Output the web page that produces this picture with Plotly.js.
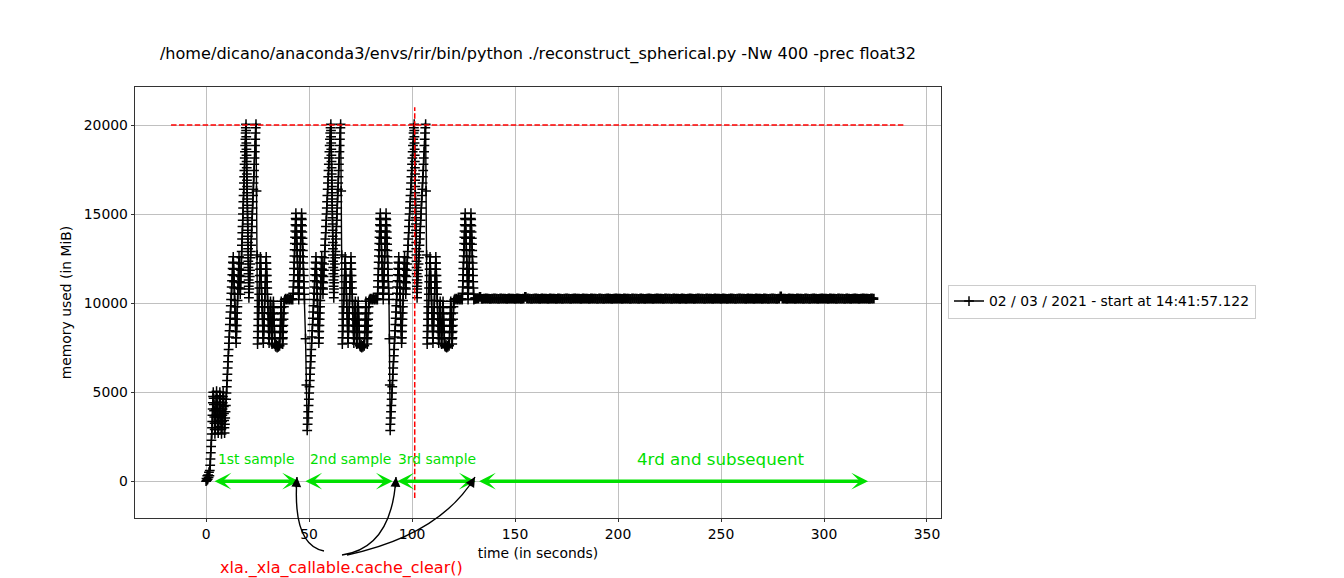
<!DOCTYPE html>
<html>
<head>
<meta charset="utf-8">
<script src="https://cdn.plot.ly/plotly-3.0.1.min.js"></script>
<style>html,body{margin:0;padding:0;background:#fff;}#chart{width:1344px;height:578px;}</style>
</head>
<body>
<div id="chart"></div>
<script>
// ================= DATA (memory used, MiB) =================
// recurring stroke shapes of the memory trace
const C1_START = [0,150,50,300,100,350,200,500,300,600,900,1250,1600,1950,2300,2650];
const C1_LOW = [3000,3350,3700,4050,4400,4750,5000, 4650,4300,3950,3600,3250,2900,2650,
  3000,3350,3700,4050,4400,4750,5050, 4650,4300,3950,3600,3250,2900,2700,
  3050,3400,3750,4100,4450,4800,5000, 4650,4300,3950,3600,3250,2900,2650,
  3000,3350,3700,4050,4400,4750,5000, 4600,4200,3800,3400,3000,2700];
const RAMP = [3200,3550,3900,4250,4600,4950,5300,5650,6000,6350,6700,7050,7400,7750,8100,8450,8800,9150,9500,9850,10200,10550,10900,11250,11600,11950,12300,12600];
const DN_A = [12250,11900,11550,11200,10850,10500,10150,9800,9450,9100,8750,8400,8050,7750];
const UP_A = [8050,8400,8750,9100,9450,9800,10150,10500,10850,11200,11550,11900,12250,12600];
const DN6 = [12250,11900,11550,11200,10850,10500];
const CLIMB = [10800,11150,11500,11850,12200,12550,12900,13250,13600,13950,14300,14650,15000,15350,15700,16050,16400,16750,17100,17450,17800,18150,18500,18850,19200,19550,19850,20050];
const FALL = [19700,19350,19000,18650,18300,17950,17600,17250,16900,16550,16200,15850,15500,15150,14800,14450,14100,13750,13400,13050,12700,12350,12000,11650,11300,10950,10600,10300];
const DROP_A = [16300,12700,7700];
const UP_S = [8050,8400,8750,9100,9450,9800,10100];
const DN_S = [9750,9400,9050,8700,8350,8000,7700];
const BLOB = [7600,7550,7650,7500,7600,7550,7650,7600];
const STEP = [10200,10250,10200,10250,10200,10250,10200,10250,10200,10250,10200];
const UP_C = [10550,10900,11250,11600,11950,12300,12650,13000,13350,13700,14050,14400,14750,15050];
const DN_C = [14700,14350,14000,13650,13300,12950,12600,12250,11900,11550,11200,10850,10500,10200];
const DROP_B = [8000,5400,2850];
const TAIL = [10250,10250];

// time stamps (s) of sample 1
const t1 = [
 0,0.2,0.4,0.6,0.8,1.0,1.2,1.4,1.6,1.8,2.0,2.15,2.3,2.45,2.6,2.75,
 2.9,3.0,3.1,3.2,3.3,3.4,3.5, 3.7,3.8,3.9,4.0,4.1,4.2,4.3, 4.5,4.6,4.7,4.8,4.9,5.0,5.1, 5.3,5.4,5.5,5.6,5.7,5.8,5.9,
 6.1,6.2,6.3,6.4,6.5,6.6,6.7, 6.9,7.0,7.1,7.2,7.3,7.4,7.5, 7.7,7.8,7.9,8.0,8.1,8.2,8.3, 8.5,8.6,8.7,8.8,8.9,9.0,
 9.15,9.3,9.45,9.6,9.75,9.9,10.05,10.2,10.35,10.5,10.65,10.8,10.95,11.1,11.25,11.4,11.55,11.7,11.85,12.0,12.15,12.3,12.45,12.6,12.75,12.9,13.05,13.2,
 13.3,13.4,13.5,13.6,13.7,13.8,13.9,14.0,14.1,14.2,14.3,14.4,14.5,14.6,
 14.7,14.8,14.9,15.0,15.1,15.2,15.3,15.4,15.5,15.6,15.7,15.8,15.9,16.0,
 16.1,16.2,16.3,16.4,16.5,16.6,
 16.7,16.8,16.9,17.0,17.1,17.2,17.3,17.4,17.5,17.6,17.7,17.8,17.9,18.0,18.1,18.2,18.3,18.4,18.5,18.6,18.7,18.8,18.9,19.0,19.1,19.2,19.3,19.4,
 19.45,19.5,19.55,19.6,19.65,19.7,19.75,19.8,19.85,19.9,19.95,20.0,20.05,20.1,20.15,20.2,20.25,20.3,20.35,20.4,20.45,20.5,20.55,20.6,20.65,20.7,20.75,20.8,
 21.0,21.12,21.24,21.36,21.48,21.6,21.72,21.84,21.96,22.08,22.2,22.32,22.44,22.56,22.68,22.8,22.92,23.04,23.16,23.28,23.4,23.52,23.64,23.76,23.88,24.0,24.12,24.24,
 24.5,24.8,25.0,
 25.1,25.2,25.3,25.4,25.5,25.6,25.7,25.8,25.9,26.0,26.1,26.2,26.3,26.4,
 26.5,26.6,26.7,26.8,26.9,27.0,27.1,27.2,27.3,27.4,27.5,27.6,27.7,27.8,
 27.9,28.0,28.1,28.2,28.3,28.4,28.5,28.6,28.7,28.8,28.9,29.0,29.1,29.2,
 29.3,29.4,29.5,29.6,29.7,29.8,29.9,30.0,30.1,30.2,30.3,30.4,30.5,30.6,
 30.7,30.8,30.9,31.0,31.1,31.2,31.3, 31.4,31.5,31.6,31.7,31.8,31.9,32.0, 32.1,32.2,32.3,32.4,32.5,32.6,32.7, 32.8,32.9,33.0,33.1,33.2,33.3,33.4,
 33.6,33.9,34.2,34.5,34.8,35.1,35.4,35.7,
 35.9,36.0,36.1,36.2,36.3,36.4,36.5, 36.6,36.7,36.8,36.9,37.0,37.1,37.2, 37.3,37.4,37.5,37.6,37.7,37.8,37.9,
 38.2,38.6,39.0,39.4,39.8,40.2,40.6,41.0,41.4,41.8,42.1,
 42.3,42.4,42.5,42.6,42.7,42.8,42.9,43.0,43.1,43.2,43.3,43.4,43.5,43.6,
 43.7,43.8,43.9,44.0,44.1,44.2,44.3,44.4,44.5,44.6,44.7,44.8,44.9,45.0,
 45.1,45.2,45.3,45.4,45.5,45.6,45.7,45.8,45.9,46.0,46.1,46.2,46.3,46.4,
 46.5,46.6,46.7,46.8,46.9,47.0,47.1,47.2,47.3,47.4,47.5,47.6,47.7,47.8,
 48.3,48.7,49.1
];
const m1 = [].concat(C1_START, C1_LOW, RAMP, DN_A, UP_A, DN6, CLIMB, FALL, CLIMB, DROP_A,
  UP_A, DN_A, UP_A, DN_A, UP_S, DN_S, UP_S, DN_S, BLOB, UP_S, DN_S, UP_S, STEP,
  UP_C, DN_C, UP_C, DN_C, DROP_B);

// time stamps (s) of sample 2
const t2 = [
 49.3,49.45,49.6,49.75,49.9,50.05,50.2,50.35,50.5,50.65,50.8,50.95,51.1,51.25,51.4,51.55,51.7,51.85,52.0,52.15,52.3,52.45,52.6,52.75,52.9,53.05,53.2,53.35,
 53.45,53.55,53.65,53.75,53.85,53.95,54.05,54.15,54.25,54.35,54.45,54.55,54.65,54.75,
 54.85,54.95,55.05,55.15,55.25,55.35,55.45,55.55,55.65,55.75,55.85,55.95,56.05,56.15,
 56.25,56.35,56.45,56.55,56.65,56.75,
 56.8,56.94,57.08,57.22,57.36,57.5,57.64,57.78,57.92,58.06,58.2,58.34,58.48,58.62,58.76,58.9,59.04,59.18,59.32,59.46,59.6,59.74,59.88,60.02,60.16,60.3,60.44,60.58,
 60.65,60.7,60.75,60.8,60.85,60.9,60.95,61.0,61.05,61.1,61.15,61.2,61.25,61.3,61.35,61.4,61.45,61.5,61.55,61.6,61.65,61.7,61.75,61.8,61.85,61.9,61.95,62.0,
 62.1,62.22,62.34,62.46,62.58,62.7,62.82,62.94,63.06,63.18,63.3,63.42,63.54,63.66,63.78,63.9,64.02,64.14,64.26,64.38,64.5,64.62,64.74,64.86,64.98,65.1,65.22,65.34,
 65.6,65.9,66.15,
 66.25,66.35,66.45,66.55,66.65,66.75,66.85,66.95,67.05,67.15,67.25,67.35,67.45,67.55,
 67.65,67.75,67.85,67.95,68.05,68.15,68.25,68.35,68.45,68.55,68.65,68.75,68.85,68.95,
 69.05,69.15,69.25,69.35,69.45,69.55,69.65,69.75,69.85,69.95,70.05,70.15,70.25,70.35,
 70.45,70.55,70.65,70.75,70.85,70.95,71.05,71.15,71.25,71.35,71.45,71.55,71.65,71.75,
 71.85,71.95,72.05,72.15,72.25,72.35,72.45, 72.55,72.65,72.75,72.85,72.95,73.05,73.15, 73.25,73.35,73.45,73.55,73.65,73.75,73.85, 73.95,74.05,74.15,74.25,74.35,74.45,74.55,
 74.7,75.0,75.3,75.6,75.9,76.2,76.5,76.8,
 77.0,77.1,77.2,77.3,77.4,77.5,77.6, 77.7,77.8,77.9,78.0,78.1,78.2,78.3, 78.4,78.5,78.6,78.7,78.8,78.9,79.0,
 79.3,79.7,80.1,80.5,80.9,81.3,81.7,82.1,82.5,82.9,83.2,
 83.3,83.4,83.5,83.6,83.7,83.8,83.9,84.0,84.1,84.2,84.3,84.4,84.5,84.6,
 84.7,84.8,84.9,85.0,85.1,85.2,85.3,85.4,85.5,85.6,85.7,85.8,85.9,86.0,
 86.1,86.2,86.3,86.4,86.5,86.6,86.7,86.8,86.9,87.0,87.1,87.2,87.3,87.4,
 87.5,87.6,87.7,87.8,87.9,88.0,88.1,88.2,88.3,88.4,88.5,88.6,88.7,88.8,
 89.0,89.2,89.4
];
const m2 = [].concat(RAMP, DN_A, UP_A, DN6, CLIMB, FALL, CLIMB, DROP_A,
  UP_A, DN_A, UP_A, DN_A, UP_S, DN_S, UP_S, DN_S, BLOB, UP_S, DN_S, UP_S, STEP,
  UP_C, DN_C, UP_C, DN_C, DROP_B);

// time stamps (s) of sample 3
const t3 = [
 89.5,89.65,89.8,89.95,90.1,90.25,90.4,90.55,90.7,90.85,91.0,91.15,91.3,91.45,91.6,91.75,91.9,92.05,92.2,92.35,92.5,92.65,92.8,92.95,93.1,93.25,93.4,93.55,
 93.65,93.75,93.85,93.95,94.05,94.15,94.25,94.35,94.45,94.55,94.65,94.75,94.85,94.95,
 95.05,95.15,95.25,95.35,95.45,95.55,95.65,95.75,95.85,95.95,96.05,96.15,96.25,96.35,
 96.45,96.55,96.65,96.75,96.85,96.95,
 97.0,97.15,97.3,97.45,97.6,97.75,97.9,98.05,98.2,98.35,98.5,98.65,98.8,98.95,99.1,99.25,99.4,99.55,99.7,99.85,100.0,100.15,100.3,100.45,100.6,100.75,100.9,101.05,
 101.1,101.15,101.2,101.25,101.3,101.35,101.4,101.45,101.5,101.55,101.6,101.65,101.7,101.75,101.8,101.85,101.9,101.95,102.0,102.05,102.1,102.15,102.2,102.25,102.3,102.35,102.4,102.45,
 102.55,102.7,102.85,103.0,103.15,103.3,103.45,103.6,103.75,103.9,104.05,104.2,104.35,104.5,104.65,104.8,104.95,105.1,105.25,105.4,105.55,105.7,105.85,106.0,106.15,106.3,106.45,106.6,
 106.8,107.1,107.35,
 107.45,107.55,107.65,107.75,107.85,107.95,108.05,108.15,108.25,108.35,108.45,108.55,108.65,108.75,
 108.85,108.95,109.05,109.15,109.25,109.35,109.45,109.55,109.65,109.75,109.85,109.95,110.05,110.15,
 110.25,110.35,110.45,110.55,110.65,110.75,110.85,110.95,111.05,111.15,111.25,111.35,111.45,111.55,
 111.65,111.75,111.85,111.95,112.05,112.15,112.25,112.35,112.45,112.55,112.65,112.75,112.85,112.95,
 113.05,113.15,113.25,113.35,113.45,113.55,113.65, 113.75,113.85,113.95,114.05,114.15,114.25,114.35, 114.45,114.55,114.65,114.75,114.85,114.95,115.05, 115.15,115.25,115.35,115.45,115.55,115.65,115.75,
 115.9,116.2,116.5,116.8,117.1,117.4,117.7,118.0,
 118.2,118.3,118.4,118.5,118.6,118.7,118.8, 118.9,119.0,119.1,119.2,119.3,119.4,119.5, 119.6,119.7,119.8,119.9,120.0,120.1,120.2,
 120.5,120.9,121.3,121.7,122.1,122.5,122.9,123.3,123.7,124.1,124.4,
 124.5,124.6,124.7,124.8,124.9,125.0,125.1,125.2,125.3,125.4,125.5,125.6,125.7,125.8,
 125.9,126.0,126.1,126.2,126.3,126.4,126.5,126.6,126.7,126.8,126.9,127.0,127.1,127.2,
 127.3,127.4,127.5,127.6,127.7,127.8,127.9,128.0,128.1,128.2,128.3,128.4,128.5,128.6,
 128.7,128.8,128.9,129.0,129.1,129.2,129.3,129.4,129.5,129.6,129.7,129.8,129.9,130.0,
 130.3,130.6
];
const m3 = [].concat(RAMP, DN_A, UP_A, DN6, CLIMB, FALL, CLIMB, DROP_A,
  UP_A, DN_A, UP_A, DN_A, UP_S, DN_S, UP_S, DN_S, BLOB, UP_S, DN_S, UP_S, STEP,
  UP_C, DN_C, UP_C, DN_C, TAIL);

// 4th and subsequent samples (steady state)
const tF = [
 131,132,133,134,135,136,137,138,139,140,141,142,143,144,145,146,147,148,149,150,
 151,152,153,154,155,156,157,158,159,160,161,162,163,164,165,166,167,168,169,170,
 171,172,173,174,175,176,177,178,179,180,181,182,183,184,185,186,187,188,189,190,
 191,192,193,194,195,196,197,198,199,200,201,202,203,204,205,206,207,208,209,210,
 211,212,213,214,215,216,217,218,219,220,221,222,223,224,225,226,227,228,229,230,
 231,232,233,234,235,236,237,238,239,240,241,242,243,244,245,246,247,248,249,250,
 251,252,253,254,255,256,257,258,259,260,261,262,263,264,265,266,267,268,269,270,
 271,272,273,274,275,276,277,278,279,280,281,282,283,284,285,286,287,288,289,290,
 291,292,293,294,295,296,297,298,299,300,301,302,303,304,305,306,307,308,309,310,
 311,312,313,314,315,316,317,318,319,320,321,322,323,324
];
const mF = [
 10250,10260,10350,10240,10250,10260,10250,10240,10250,10260,10250,10240,10260,10250,10250,10240,10260,10250,10250,10240,
 10260,10250,10240,10250,10350,10260,10250,10240,10250,10260,10250,10240,10260,10250,10250,10240,10260,10250,10250,10240,
 10260,10250,10240,10250,10260,10250,10240,10250,10260,10250,10250,10240,10260,10250,10250,10240,10260,10250,10250,10240,
 10260,10250,10240,10250,10260,10250,10240,10250,10260,10250,10250,10240,10260,10250,10250,10240,10260,10250,10250,10240,
 10260,10250,10240,10250,10260,10250,10240,10250,10260,10250,10250,10240,10260,10250,10250,10240,10260,10250,10250,10240,
 10260,10250,10240,10250,10260,10250,10240,10250,10260,10250,10250,10240,10260,10250,10250,10240,10260,10250,10250,10240,
 10260,10250,10240,10250,10260,10250,10240,10250,10260,10250,10250,10240,10260,10250,10250,10240,10260,10250,10250,10240,
 10260,10250,10240,10250,10260,10250,10240,10250,10380,10250,10250,10240,10260,10250,10250,10240,10260,10250,10250,10240,
 10260,10250,10240,10250,10260,10250,10240,10250,10260,10250,10250,10240,10260,10250,10250,10240,10260,10250,10250,10240,
 10260,10250,10240,10250,10260,10250,10240,10250,10260,10250,10250,10240,10260,10250
];

// reference lines
const limitX = [-17, 339];
const limitY = [20000, 20000];
const markX = [101.3, 101.3];
const markY = [-950, 21000];

// phase annotations
const phaseLabels = ['1st sample', '2nd sample', '3rd sample', '4rd and subsequent'];
const phaseStart = [3.4, 47.5, 92.1, 131.8];
const phaseEnd = [45.1, 90.6, 130.9, 321.4];
const labelX = [24, 70, 112, 250];
const labelY = 1240;
const cacheClearText = 'xla._xla_callable.cache_clear()';
const legendLabel = '02 / 03 / 2021 - start at 14:41:57.122';
const titleText = '/home/dicano/anaconda3/envs/rir/bin/python ./reconstruct_spherical.py -Nw 400 -prec float32';

// ================= STYLE / LAYOUT =================
const FONT = 'DejaVu Sans';
const GREEN = '#00e000';
const L = 135, R = 941, T = 87, B = 518;
const px = x => (x - L) / (R - L);
const py = y => (B - y) / (B - T);

const traces = [
  {
    x: [].concat(t1, t2, t3), y: [].concat(m1, m2, m3),
    type: 'scatter', mode: 'lines+markers', name: legendLabel, legendgroup: 'mem',
    line: {color: 'black', width: 1.4},
    marker: {symbol: 'cross-thin', size: 7, color: 'black', line: {color: 'black', width: 1.5}}
  },
  {
    x: [t3[t3.length - 1]].concat(tF), y: [m3[m3.length - 1]].concat(mF),
    type: 'scatter', mode: 'lines+markers', name: legendLabel, legendgroup: 'mem', showlegend: false,
    line: {color: 'black', width: 1.4},
    marker: {symbol: 'cross-thin', size: 7, color: 'black', line: {color: 'black', width: 2.6}}
  },
  {x: limitX, y: limitY, type: 'scatter', mode: 'lines', showlegend: false, hoverinfo: 'skip',
   line: {color: 'red', width: 1.5, dash: '5.5px,2.4px'}},
  {x: markX, y: markY, type: 'scatter', mode: 'lines', showlegend: false, hoverinfo: 'skip',
   line: {color: 'red', width: 1.5, dash: '5.5px,2.4px'}}
];

const annotations = [];
for (let i = 0; i < phaseLabels.length; i++) {
  annotations.push({
    x: phaseEnd[i], y: 0, ax: phaseStart[i], ay: 0, xref: 'x', yref: 'y', axref: 'x', ayref: 'y',
    text: '', showarrow: true, arrowside: 'end+start', arrowhead: 3, startarrowhead: 3,
    arrowsize: 0.8, startarrowsize: 0.8, arrowwidth: 3.5, arrowcolor: GREEN
  });
  annotations.push({
    x: labelX[i], y: labelY, xref: 'x', yref: 'y', text: phaseLabels[i], showarrow: false,
    xanchor: 'center', yanchor: 'middle',
    font: {family: FONT, size: i === 3 ? 16.7 : 13.9, color: GREEN}
  });
}
annotations.push({
  x: px(341.5), y: py(568), xref: 'paper', yref: 'paper', text: cacheClearText, showarrow: false,
  xanchor: 'center', yanchor: 'middle',
  font: {family: FONT, size: 16, color: 'red'}
});
const curves = [
  {s: [324, 551], c: [292, 545], e: [297, 477]},
  {s: [342, 555], c: [392, 548], e: [396, 477]},
  {s: [347, 555], c: [440, 535], e: [475, 477]}
];
const shapes = [];
curves.forEach(cv => {
  shapes.push({
    type: 'path', xref: 'paper', yref: 'paper',
    path: `M ${px(cv.s[0])},${py(cv.s[1])} Q ${px(cv.c[0])},${py(cv.c[1])} ${px(cv.e[0])},${py(cv.e[1])}`,
    line: {color: 'black', width: 1.4}
  });
  const dx = cv.c[0] - cv.e[0], dy = cv.c[1] - cv.e[1];
  const len = Math.hypot(dx, dy);
  annotations.push({
    x: px(cv.e[0]), y: py(cv.e[1]), xref: 'paper', yref: 'paper',
    ax: dx / len * 12, ay: dy / len * 12, text: '', showarrow: true,
    arrowhead: 2, arrowsize: 1.4, arrowwidth: 1.4, arrowcolor: 'black'
  });
});

const axisCommon = {
  showgrid: true, gridcolor: '#b0b0b0', gridwidth: 0.8,
  showline: true, linecolor: 'black', linewidth: 0.8, mirror: true,
  ticks: 'outside', ticklen: 3.5, tickwidth: 0.8, tickcolor: 'black',
  zeroline: false, tickfont: {family: FONT, size: 13.9, color: 'black'}
};

const layout = {
  width: 1344, height: 578,
  margin: {l: L, r: 1344 - R, t: T, b: 578 - B},
  paper_bgcolor: 'white', plot_bgcolor: 'white',
  font: {family: FONT, size: 13.9, color: 'black'},
  title: {text: titleText, font: {family: FONT, size: 16.1, color: 'black'},
          x: 0.5, xref: 'paper', xanchor: 'center', y: 1 - 53 / 578, yref: 'container', yanchor: 'middle'},
  xaxis: Object.assign({}, axisCommon, {
    range: [-34.5, 356.8], tick0: 0, dtick: 50,
    title: {text: 'time (in seconds)', font: {family: FONT, size: 13.9, color: 'black'}, standoff: 7}
  }),
  yaxis: Object.assign({}, axisCommon, {
    range: [-2070, 22140], tick0: 0, dtick: 5000, tickformat: 'd',
    title: {text: 'memory used (in MiB)', font: {family: FONT, size: 13.9, color: 'black'}, standoff: 8}
  }),
  showlegend: true,
  legend: {x: px(948), xanchor: 'left', y: py(301.5), yanchor: 'middle',
           bordercolor: '#cccccc', borderwidth: 1, bgcolor: 'white',
           font: {family: FONT, size: 13.9, color: 'black'}},
  annotations: annotations,
  shapes: shapes
};

Plotly.newPlot('chart', traces, layout, {displayModeBar: false, staticPlot: true});
</script>
</body>
</html>
